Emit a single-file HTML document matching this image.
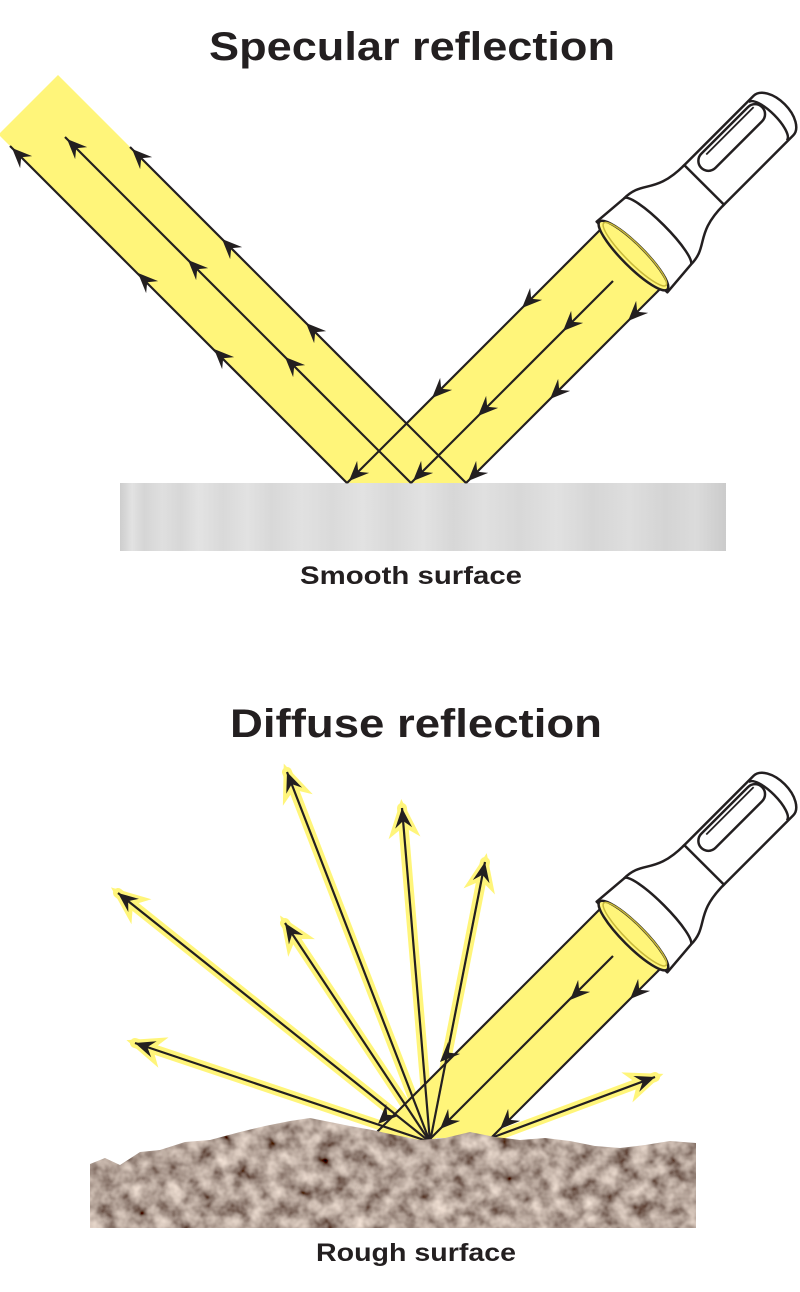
<!DOCTYPE html>
<html><head><meta charset="utf-8"><style>
html,body{margin:0;padding:0;background:#fff;}
svg{display:block;}
text{font-family:"Liberation Sans",sans-serif;font-weight:bold;fill:#231f20;}
</style></head><body>
<svg width="800" height="1292" viewBox="0 0 800 1292" xmlns="http://www.w3.org/2000/svg">
<defs>
<linearGradient id="metal" x1="0" x2="1" y1="0" y2="0">
<stop offset="0" stop-color="#cdcdcd"/><stop offset="0.02" stop-color="#e2e2e2"/><stop offset="0.04" stop-color="#d5d5d5"/>
<stop offset="0.07" stop-color="#dfdfdf"/><stop offset="0.1" stop-color="#d7d7d7"/><stop offset="0.13" stop-color="#e3e3e3"/>
<stop offset="0.17" stop-color="#d9d9d9"/><stop offset="0.21" stop-color="#e2e2e2"/><stop offset="0.25" stop-color="#d8d8d8"/>
<stop offset="0.3" stop-color="#e1e1e1"/><stop offset="0.35" stop-color="#dadada"/><stop offset="0.4" stop-color="#e2e2e2"/>
<stop offset="0.45" stop-color="#d9d9d9"/><stop offset="0.5" stop-color="#e2e2e2"/><stop offset="0.55" stop-color="#d7d7d7"/>
<stop offset="0.6" stop-color="#e0e0e0"/><stop offset="0.66" stop-color="#d8d8d8"/><stop offset="0.72" stop-color="#e1e1e1"/>
<stop offset="0.78" stop-color="#d6d6d6"/><stop offset="0.84" stop-color="#dedede"/><stop offset="0.9" stop-color="#d4d4d4"/>
<stop offset="0.95" stop-color="#dbdbdb"/><stop offset="1" stop-color="#cbcbcb"/>
</linearGradient>
<filter id="soil" x="0" y="0" width="1" height="1">
<feTurbulence type="fractalNoise" baseFrequency="0.06" numOctaves="3" seed="7" result="n"/>
<feColorMatrix in="n" type="matrix" values="1.1 0 0 0 -0.1  1.0 0 0 0 -0.14  0.9 0 0 0 -0.14  0 0 0 0 1" result="tex"/>
<feComposite in="tex" in2="SourceAlpha" operator="in"/>
</filter>
<path id="ah" d="M0,0 L-20,-8.5 L-13,0 L-20,8.5 Z" fill="#231f20"/>
<path id="yh" d="M9,0 L-30,-16 L-19,0 L-30,16 Z" fill="#fff57a"/>
<g id="flash" stroke="#231f20" stroke-width="2.5" stroke-linejoin="round">
<path d="M100,-28 L200,-28 A16,28 0 0 1 200,28 L100,28 Z" fill="#fff"/>
<path d="M192,-27 A9,27 0 0 1 192,27" fill="none"/>
<rect x="112" y="-24" width="86" height="20" rx="10" fill="#fff"/>
<path d="M125,-20 L192,-20" fill="none" stroke-width="1.8"/>
<path d="M36,-47 C62,-47 60,-28 102,-28 L102,28 C60,28 62,47 36,47 Z" fill="#fff"/>
<path d="M0,-50 L36,-47 A9,47 0 0 1 36,47 L0,50 Z" fill="#fff"/>
<ellipse cx="2" cy="0" rx="11" ry="48" fill="#fff57a" stroke="#231f20"/>
<ellipse cx="4" cy="0" rx="9" ry="44" fill="none" stroke="#c8b93a" stroke-width="1.5"/>
</g>
</defs>

<text x="412" y="60" font-size="40" text-anchor="middle" textLength="406" lengthAdjust="spacingAndGlyphs">Specular reflection</text>

<polygon points="347,483 466,483 58,75 0,133 0,136" fill="#fff57a"/>
<polygon points="347,483 466,483 662,287 602,227" fill="#fff57a"/>
<rect x="120" y="483" width="606" height="68" fill="url(#metal)"/>
<g stroke="#231f20" stroke-width="2.2" fill="none">
<line x1="347" y1="483" x2="10" y2="146"/>
<line x1="411" y1="483" x2="65" y2="137"/>
<line x1="466" y1="483" x2="130" y2="147"/>
<line x1="347" y1="483" x2="602" y2="228"/>
<line x1="411" y1="483" x2="613" y2="281"/>
<line x1="466" y1="483" x2="662" y2="287"/>
</g>
<use href="#ah" transform="translate(12,148) rotate(225)"/>
<use href="#ah" transform="translate(138,273) rotate(225)"/>
<use href="#ah" transform="translate(214,349) rotate(225)"/>
<use href="#ah" transform="translate(67,139) rotate(225)"/>
<use href="#ah" transform="translate(188,260) rotate(225)"/>
<use href="#ah" transform="translate(285,357) rotate(225)"/>
<use href="#ah" transform="translate(132,149) rotate(225)"/>
<use href="#ah" transform="translate(222,239) rotate(225)"/>
<use href="#ah" transform="translate(306,323) rotate(225)"/>
<use href="#ah" transform="translate(522,308) rotate(135)"/>
<use href="#ah" transform="translate(432,398) rotate(135)"/>
<use href="#ah" transform="translate(349,481) rotate(135)"/>
<use href="#ah" transform="translate(563,331) rotate(135)"/>
<use href="#ah" transform="translate(478,416) rotate(135)"/>
<use href="#ah" transform="translate(413,481) rotate(135)"/>
<use href="#ah" transform="translate(628,321) rotate(135)"/>
<use href="#ah" transform="translate(550,399) rotate(135)"/>
<use href="#ah" transform="translate(468,481) rotate(135)"/>
<use href="#flash" transform="translate(632,257) rotate(-45)"/>

<text x="411" y="584" font-size="25" text-anchor="middle" textLength="222" lengthAdjust="spacingAndGlyphs">Smooth surface</text>

<text x="416" y="737" font-size="40" text-anchor="middle" textLength="372" lengthAdjust="spacingAndGlyphs">Diffuse reflection</text>

<polygon points="371,1138 491,1138 662,967 602,907" fill="#fff57a"/>
<g stroke="#fff57a" stroke-width="10" fill="none" stroke-linecap="round">
<line x1="430" y1="1142" x2="135" y2="1043"/>
<line x1="430" y1="1142" x2="118" y2="893"/>
<line x1="430" y1="1142" x2="285" y2="923"/>
<line x1="430" y1="1142" x2="287" y2="772"/>
<line x1="430" y1="1142" x2="402" y2="808"/>
<line x1="430" y1="1142" x2="485" y2="862"/>
<line x1="491" y1="1138" x2="655" y2="1077"/>
</g>
<use href="#yh" transform="translate(135,1043) rotate(198.5)"/>
<use href="#yh" transform="translate(118,893) rotate(218.6)"/>
<use href="#yh" transform="translate(285,923) rotate(236.5)"/>
<use href="#yh" transform="translate(287,772) rotate(248.9)"/>
<use href="#yh" transform="translate(402,808) rotate(265.2)"/>
<use href="#yh" transform="translate(485,862) rotate(281.1)"/>
<use href="#yh" transform="translate(655,1077) rotate(-20.3)"/>
<g stroke="#231f20" stroke-width="2.2" fill="none">
<line x1="430" y1="1142" x2="135" y2="1043"/>
<line x1="430" y1="1142" x2="118" y2="893"/>
<line x1="430" y1="1142" x2="285" y2="923"/>
<line x1="430" y1="1142" x2="287" y2="772"/>
<line x1="430" y1="1142" x2="402" y2="808"/>
<line x1="430" y1="1142" x2="485" y2="862"/>
<line x1="491" y1="1138" x2="655" y2="1077"/>
<line x1="371" y1="1138" x2="602" y2="907"/>
<line x1="431" y1="1138" x2="613" y2="956"/>
<line x1="491" y1="1138" x2="662" y2="967"/>
</g>
<use href="#ah" transform="translate(135,1043) rotate(198.5)"/>
<use href="#ah" transform="translate(118,893) rotate(218.6)"/>
<use href="#ah" transform="translate(285,923) rotate(236.5)"/>
<use href="#ah" transform="translate(287,772) rotate(248.9)"/>
<use href="#ah" transform="translate(402,808) rotate(265.2)"/>
<use href="#ah" transform="translate(485,862) rotate(281.1)"/>
<use href="#ah" transform="translate(655,1077) rotate(-20.3)"/>
<use href="#ah" transform="translate(440,1062) rotate(135)"/>
<use href="#ah" transform="translate(378,1124) rotate(135)"/>
<use href="#ah" transform="translate(570,1000) rotate(135)"/>
<use href="#ah" transform="translate(440,1129) rotate(135)"/>
<use href="#ah" transform="translate(630,999) rotate(135)"/>
<use href="#ah" transform="translate(500,1129) rotate(135)"/>
<use href="#flash" transform="translate(632,937) rotate(-45)"/>

<path d="M90,1164 L105,1158 L120,1165 L140,1152 L160,1150 L185,1142 L210,1140 L240,1132 L265,1126 L290,1121 L310,1118 L330,1122 L350,1126 L372,1130 L395,1135 L420,1140 L445,1138 L470,1132 L495,1137 L520,1140 L545,1138 L570,1141 L595,1146 L620,1148 L645,1145 L670,1141 L696,1143 L696,1228 L90,1228 Z" fill="#7a6a5e" filter="url(#soil)"/>

<text x="416" y="1261" font-size="25" text-anchor="middle" textLength="200" lengthAdjust="spacingAndGlyphs">Rough surface</text>
</svg>
</body></html>
